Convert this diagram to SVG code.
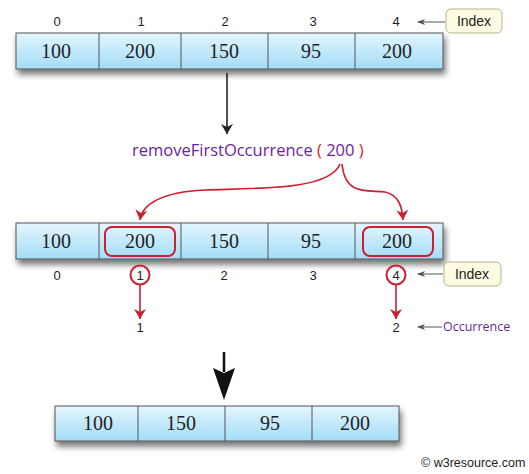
<svg xmlns="http://www.w3.org/2000/svg" width="529" height="474" viewBox="0 0 529 474">
<defs>
<linearGradient id="cellg" x1="0" y1="0" x2="0" y2="1">
<stop offset="0" stop-color="#e4f6fe"/>
<stop offset="1" stop-color="#a3dcf7"/>
</linearGradient>
<filter id="sh" x="-10%" y="-30%" width="120%" height="180%">
<feGaussianBlur in="SourceAlpha" stdDeviation="3"/>
<feOffset dx="2" dy="5"/>
<feComponentTransfer><feFuncA type="linear" slope="0.55"/></feComponentTransfer>
<feMerge><feMergeNode/><feMergeNode in="SourceGraphic"/></feMerge>
</filter>
<marker id="sa" markerWidth="8" markerHeight="6" refX="7" refY="3" orient="auto" markerUnits="userSpaceOnUse">
<path d="M0,0 L8,3 L0,6 L2,3 Z" fill="#555"/>
</marker>
<marker id="ra" markerWidth="12" markerHeight="12" refX="10" refY="6" orient="auto" markerUnits="userSpaceOnUse">
<path d="M0,0 L10,6 L0,12 L3,6 Z" fill="#cc1f2f"/>
</marker>
<marker id="ba" markerWidth="12" markerHeight="12" refX="10" refY="6" orient="auto" markerUnits="userSpaceOnUse">
<path d="M0,0 L10,6 L0,12 L3,6 Z" fill="#222"/>
</marker>
</defs>
<style>
.arr rect.bg{fill:url(#cellg);stroke:#555;stroke-width:1}
.arr line{stroke:#555;stroke-width:1}
.val{font-family:"Liberation Serif",serif;font-size:20px;fill:#222;text-anchor:middle}
.idx{font-family:"Liberation Sans",Arial,sans-serif;font-size:13px;fill:#222;text-anchor:middle}
.lbl{fill:#fdfbe2;stroke:#b9b48a;stroke-width:1}
.lbt{font-family:"Liberation Sans",Arial,sans-serif;font-size:14px;fill:#222;text-anchor:middle}
.red{stroke:#cc1f2f;stroke-width:1.6;fill:none}
.gry{stroke:#555;stroke-width:1;fill:none}
.pur{fill:#6a1fa0}
</style>

<g id="array1" class="arr">
<rect class="bg" x="16" y="33" width="427" height="36" filter="url(#sh)"/>
<line x1="99" y1="33" x2="99" y2="69"/>
<line x1="181" y1="33" x2="181" y2="69"/>
<line x1="268" y1="33" x2="268" y2="69"/>
<line x1="355" y1="33" x2="355" y2="69"/>
<text class="val" x="56" y="58">100</text>
<text class="val" x="140" y="58">200</text>
<text class="val" x="224" y="58">150</text>
<text class="val" x="311" y="58">95</text>
<text class="val" x="397" y="58">200</text>
<text class="idx" x="57" y="26">0</text>
<text class="idx" x="141" y="26">1</text>
<text class="idx" x="225" y="26">2</text>
<text class="idx" x="313" y="26">3</text>
<text class="idx" x="396" y="26">4</text>
</g>

<g id="index1">
<rect class="lbl" x="446" y="9" width="56" height="24" rx="5"/>
<text class="lbt" x="474" y="26">Index</text>
</g>

<g id="call">
<text x="132" y="156" font-family="'Open Sans','DejaVu Sans',sans-serif" font-size="16.5px"><tspan class="pur">removeFirstOccurrence</tspan><tspan fill="#cc1f2f"> ( </tspan><tspan class="pur">200</tspan><tspan fill="#cc1f2f"> )</tspan></text>
</g>

<g id="array2" class="arr">
<rect class="bg" x="16" y="223" width="427" height="36" filter="url(#sh)"/>
<line x1="99" y1="223" x2="99" y2="259"/>
<line x1="181" y1="223" x2="181" y2="259"/>
<line x1="268" y1="223" x2="268" y2="259"/>
<line x1="355" y1="223" x2="355" y2="259"/>
<rect x="105" y="227" width="70" height="29" rx="7" fill="none" stroke="#cc1f2f" stroke-width="2"/>
<rect x="363" y="227" width="70" height="29" rx="7" fill="none" stroke="#cc1f2f" stroke-width="2"/>
<text class="val" x="56" y="248">100</text>
<text class="val" x="140" y="248">200</text>
<text class="val" x="224" y="248">150</text>
<text class="val" x="311" y="248">95</text>
<text class="val" x="397" y="248">200</text>
<text class="idx" x="57" y="280">0</text>
<circle cx="140" cy="275" r="9.5" fill="none" stroke="#cc1f2f" stroke-width="2"/>
<text class="idx" x="140" y="280">1</text>
<text class="idx" x="224" y="280">2</text>
<text class="idx" x="313" y="280">3</text>
<circle cx="396" cy="275" r="9.5" fill="none" stroke="#cc1f2f" stroke-width="2"/>
<text class="idx" x="396" y="280">4</text>
<text class="idx" x="140" y="332">1</text>
<text class="idx" x="396" y="332">2</text>
</g>

<g id="index2">
<rect class="lbl" x="444" y="262" width="57" height="24" rx="5"/>
<text class="lbt" x="472" y="279">Index</text>
</g>

<g id="occurrence">
<text x="443" y="331" font-family="'Open Sans','Liberation Sans',sans-serif" font-size="12.5px" class="pur">Occurrence</text>
</g>

<g id="array3" class="arr">
<rect class="bg" x="55" y="406" width="344" height="35" filter="url(#sh)"/>
<line x1="138" y1="406" x2="138" y2="441"/>
<line x1="225" y1="406" x2="225" y2="441"/>
<line x1="312" y1="406" x2="312" y2="441"/>
<text class="val" x="98" y="430">100</text>
<text class="val" x="181" y="430">150</text>
<text class="val" x="270" y="430">95</text>
<text class="val" x="355" y="430">200</text>
</g>

<g id="connectors">
<line x1="227" y1="73" x2="227" y2="134" stroke="#222" stroke-width="1.6" marker-end="url(#ba)"/>
<line x1="445" y1="22" x2="418" y2="22" class="gry" marker-end="url(#sa)"/>
<line x1="443" y1="274" x2="418" y2="274" class="gry" marker-end="url(#sa)"/>
<line x1="442" y1="327" x2="418" y2="327" class="gry" marker-end="url(#sa)"/>
<path class="red" d="M340,164 C330,190 260,188 205,190 C160,192 142,205 140,220" marker-end="url(#ra)"/>
<path class="red" d="M342,164 C345,195 365,190 385,192 C398,195 402,205 403,220" marker-end="url(#ra)"/>
<line class="red" x1="140" y1="285" x2="140" y2="319" marker-end="url(#ra)"/>
<line class="red" x1="396" y1="285" x2="396" y2="319" marker-end="url(#ra)"/>
<line x1="224" y1="352" x2="224" y2="372" stroke="#111" stroke-width="2.5"/>
<path d="M213,368 L224,373 L235,368 L224,400 Z" fill="#111"/>
</g>

<g id="copyright">
<text x="421" y="467" font-family="'Liberation Sans',Arial,sans-serif" font-size="12.5px" fill="#222">© w3resource.com</text>
</g>
</svg>
